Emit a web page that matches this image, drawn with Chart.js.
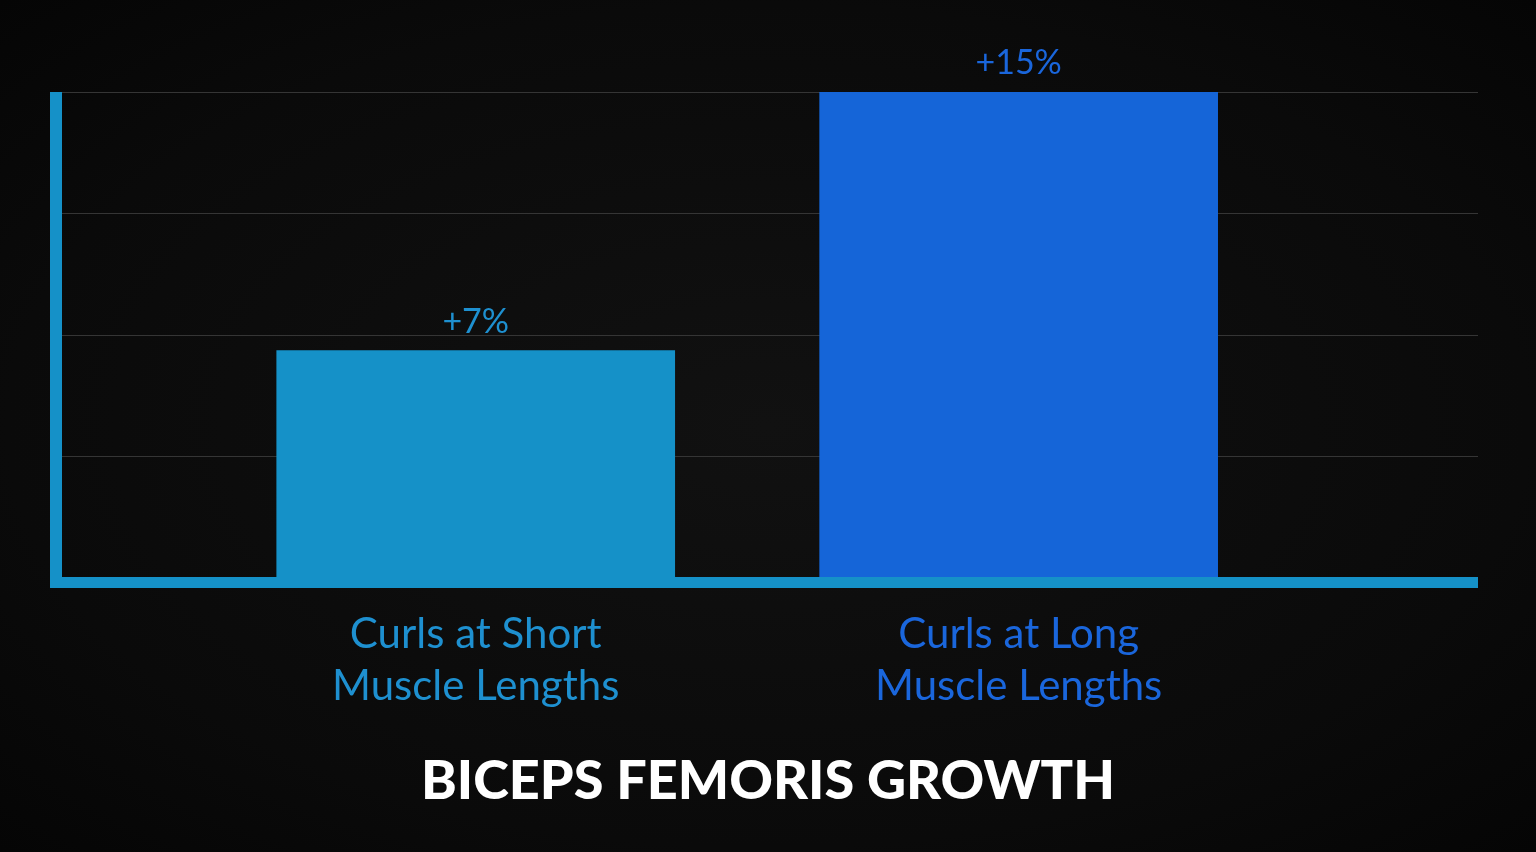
<!DOCTYPE html>
<html><head><meta charset="utf-8">
<script src="https://cdn.jsdelivr.net/npm/chart.js@4/dist/chart.umd.min.js"></script>
<style>html,body{margin:0;padding:0;background:#0c0c0c;}#w{width:1536px;height:852px;background:radial-gradient(ellipse at center,#111 0%,#0a0a0a 70%,#050505 100%);}</style>
</head><body><div id="w"><canvas id="c" width="1536" height="852"></canvas></div>
<script>
const categories = [["Curls at Short","Muscle Lengths"],["Curls at Long","Muscle Lengths"]];
const values = [7, 15];
const valueLabels = ["+7%","+15%"];
const title = "BICEPS FEMORIS GROWTH";
const barColors = ["#1591c8","#1565d8"];
const textColors = ["#1e90d0","#1a66dc"];
const gridValues = [3.75, 7.5, 11.25, 15];

const deco = {
  id:'deco',
  beforeDatasetsDraw(ch){
    const c=ch.ctx, y=ch.scales.y, a=ch.chartArea;
    c.save(); c.strokeStyle='#353535'; c.lineWidth=1;
    gridValues.forEach(v=>{const py=Math.round(y.getPixelForValue(v))+0.5;c.beginPath();c.moveTo(a.left,py);c.lineTo(a.right,py);c.stroke();});
    c.restore();
  },
  afterDatasetsDraw(ch){
    const c=ch.ctx, y=ch.scales.y, a=ch.chartArea;
    c.save();
    c.fillStyle='#1591c8';
    const y0=y.getPixelForValue(0);
    c.fillRect(a.left-12,y.getPixelForValue(15),12,y0-y.getPixelForValue(15)+11);
    c.fillRect(a.left-12,y0,a.right-a.left+12,11);
    const meta=ch.getDatasetMeta(0);
    c.textAlign='center';
    meta.data.forEach((b,i)=>{
      c.fillStyle=textColors[i];
      c.font='34px Lato, "Open Sans", sans-serif';
      c.textBaseline='bottom';
      c.fillText(valueLabels[i],b.x,b.y-12);
      c.font='42px Lato, "Open Sans", sans-serif';
      c.textBaseline='middle';
      categories[i].forEach((t,j)=>c.fillText(t,b.x,634+j*52));
    });
    c.fillStyle='#ffffff';
    c.font='900 54px Lato, "Open Sans", sans-serif';
    c.fillText(title,768,782);
    c.restore();
  }
};

new Chart(document.getElementById('c'),{
  type:'bar',
  data:{datasets:[{data:values.map((v,i)=>({x:i+1,y:v})),backgroundColor:barColors,barThickness:398,borderWidth:0}]},
  options:{responsive:false,animation:false,
    layout:{padding:{top:92,left:62,right:58,bottom:275}},
    plugins:{legend:{display:false},tooltip:{enabled:false}},
    scales:{
      x:{type:'linear',display:false,offset:false,min:0.238,max:2.846},
      y:{display:false,min:0,max:15}
    }},
  plugins:[deco]
});
</script></body></html>
